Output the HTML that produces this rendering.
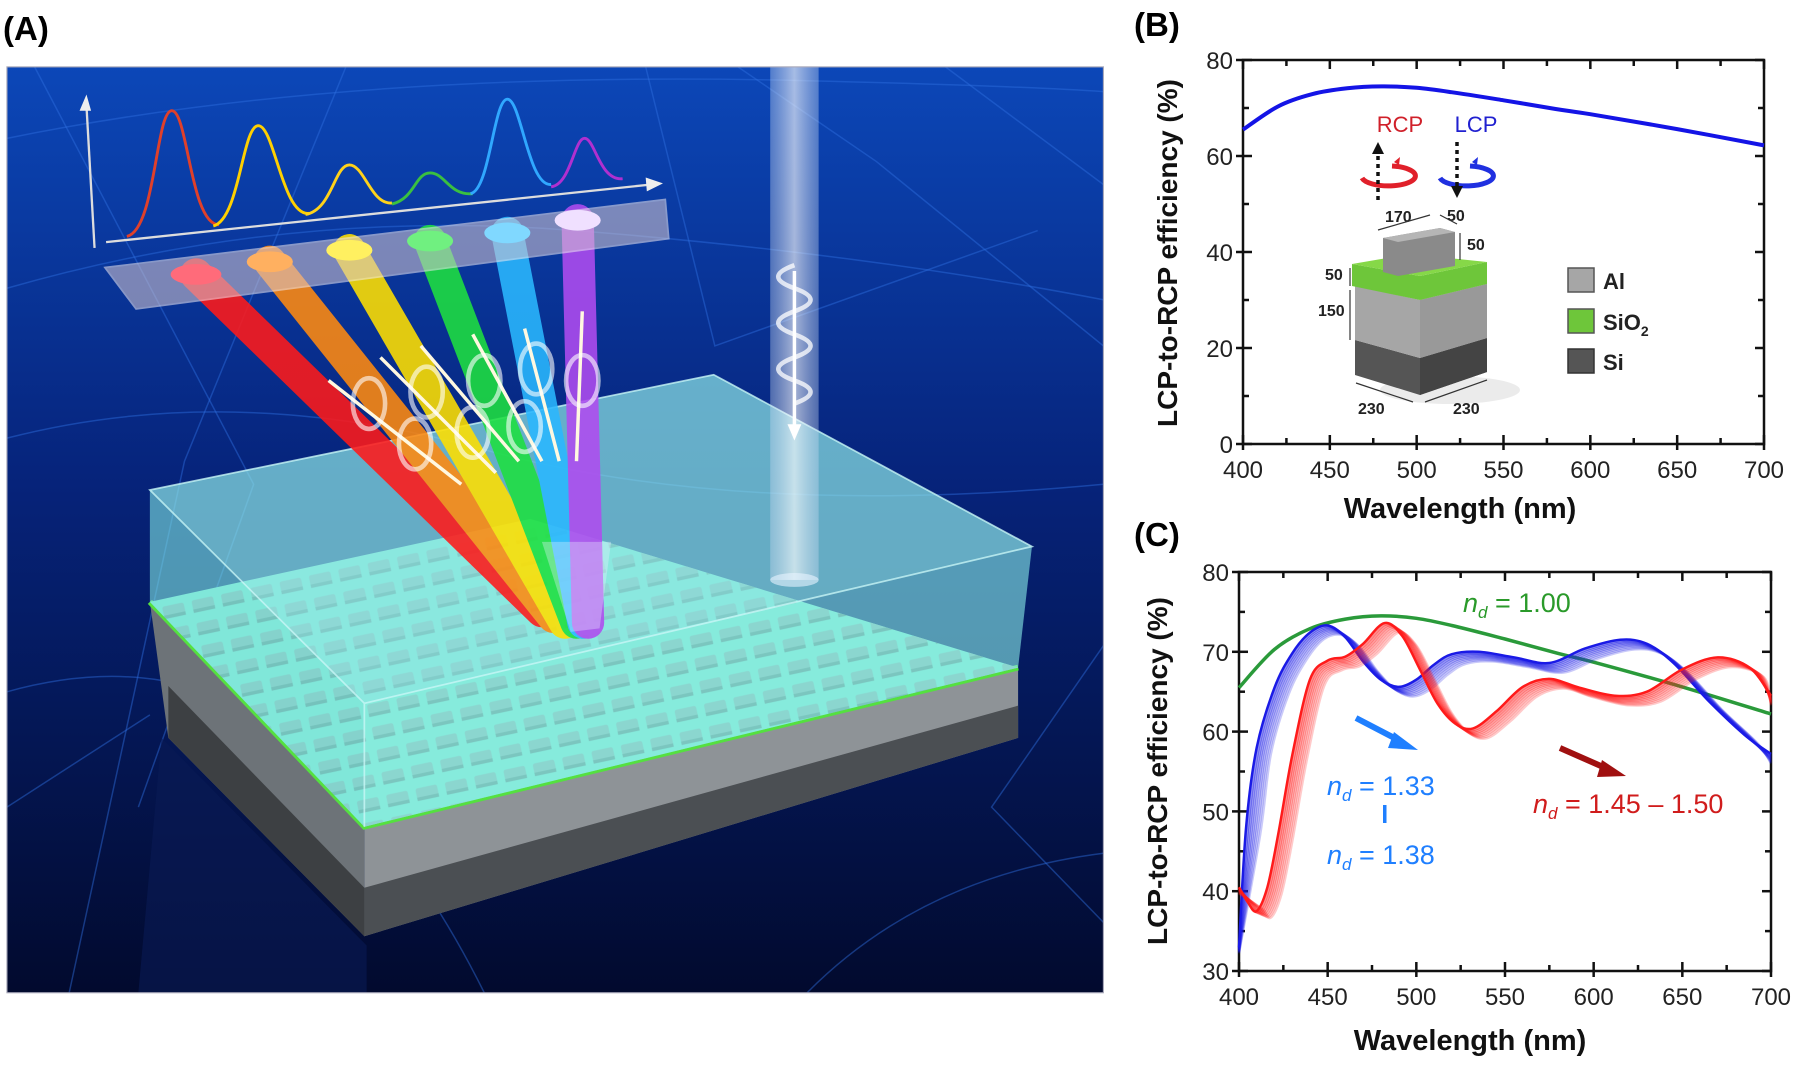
<!DOCTYPE html>
<html><head><meta charset="utf-8">
<style>
html,body{margin:0;padding:0;background:#fff;}
svg{display:block;}
text{font-family:"Liberation Sans",Arial,sans-serif;}
</style></head>
<body>
<svg id="s" width="1801" height="1075" viewBox="0 0 1801 1075" xmlns="http://www.w3.org/2000/svg">
<defs>
<linearGradient id="bg" x1="0" y1="0" x2="0" y2="1">
<stop offset="0" stop-color="#0c47b8"/><stop offset="0.45" stop-color="#06237a"/><stop offset="1" stop-color="#020a2e"/>
</linearGradient>
<linearGradient id="beamW" x1="0" y1="0" x2="1" y2="0">
<stop offset="0" stop-color="#c8d8f0" stop-opacity="0.5"/><stop offset="0.5" stop-color="#ffffff" stop-opacity="0.85"/><stop offset="1" stop-color="#c8d8f0" stop-opacity="0.5"/>
</linearGradient>
<pattern id="pill" width="26" height="20" patternUnits="userSpaceOnUse" patternTransform="rotate(-12)">
<rect x="2" y="4" width="19" height="10" rx="2" fill="#8fa9a2"/><rect x="2" y="12" width="19" height="3" fill="#5f7a74"/>
</pattern>
<clipPath id="clipA"><rect x="6" y="58" width="951" height="803"/></clipPath>
</defs>

<g transform="scale(1.153)">
<g clip-path="url(#clipA)">
<rect x="6" y="58" width="951" height="803" fill="url(#bg)"/>
<g stroke="#2e6ee0" stroke-opacity="0.45" stroke-width="1.3" fill="none">
<path d="M6 120 Q300 60 700 70 T957 90"/><path d="M6 250 Q250 180 500 200 T957 260"/>
<path d="M6 380 Q200 330 420 390 T957 420"/><path d="M30 58 L220 420 L120 700"/>
<path d="M300 58 L160 400 L60 861"/><path d="M560 58 L620 300 L900 200"/>
<path d="M957 300 L760 140 L640 58"/><path d="M957 560 L860 700 L957 800"/>
<path d="M6 600 Q150 560 250 640 T420 861"/><path d="M6 700 L130 620"/>
<path d="M700 861 Q800 760 957 740"/><path d="M820 58 L957 160"/>
</g>
<path d="M140 640 L318 820 L318 861 L120 861 Z" fill="#0a1a55" opacity="0.6"/>
<path d="M130 522 L316 717 L316 812 L146 640 Z" fill="#6d7378"/>
<path d="M316 717 L883 579 L883 640 L316 812 Z" fill="#8e9397"/>
<path d="M316 770 L883 612 L883 640 L316 812 Z" fill="#4b4f53"/>
<path d="M146 595 L316 770 L316 812 L146 640 Z" fill="#3d4043"/>
<path d="M130 522 L316 717 L883 579" fill="none" stroke="#55e040" stroke-width="5"/>
<path d="M130 522 L460 450 L883 579 L316 717 Z" fill="#7fe6c8"/>
<path d="M130 522 L460 450 L883 579 L316 717 Z" fill="url(#pill)" opacity="0.85"/>
<path d="M130 425 L619 325 L895 474 L316 610 Z" fill="#8ee8e8" opacity="0.7"/>
<path d="M130 425 L316 610 L316 717 L130 522 Z" fill="#80e8e4" opacity="0.6"/>
<path d="M316 610 L895 474 L883 579 L316 717 Z" fill="#8aeeea" opacity="0.6"/>
<path d="M130 425 L619 325 L895 474 L316 610 Z M316 610 L316 717" fill="none" stroke="#c8f6f6" stroke-width="1.5" opacity="0.8"/>
<rect x="668" y="58" width="42" height="445" fill="url(#beamW)" opacity="0.75"/>
<ellipse cx="689" cy="503" rx="21" ry="6" fill="#e8f4ff" opacity="0.6"/>
<g fill="none" stroke="#fff" stroke-opacity="0.75" stroke-width="4">
<path d="M689 230 q-28 10 0 20 q28 10 0 20 q-28 10 0 20 q28 10 0 20 q-28 10 0 20 q28 10 0 20"/>
</g>
<path d="M689 235 L689 375" stroke="#fff" stroke-width="3"/><path d="M683 368 L689 382 L695 368 Z" fill="#fff"/>
<g opacity="0.88" stroke-linecap="round">
<path d="M170 238 L470 530" stroke="#ff1a1a" stroke-width="28"/>
<path d="M234 227 L480 535" stroke="#ff8a10" stroke-width="28"/>
<path d="M303 217 L490 540" stroke="#ffe000" stroke-width="28"/>
<path d="M373 209 L500 540" stroke="#1ee040" stroke-width="28"/>
<path d="M440 202 L506 540" stroke="#2ab8ff" stroke-width="28"/>
<path d="M501 191 L510 540" stroke="#b04cf0" stroke-width="28"/>
</g>
<path d="M470 470 L530 470 L520 545 L495 548 Z" fill="#e8f0ff" opacity="0.35"/>
<g stroke="#fff8e0" stroke-width="3">
<path d="M400 420 L285 330"/><path d="M430 410 L330 310"/><path d="M450 400 L365 300"/><path d="M470 400 L410 290"/><path d="M485 400 L455 285"/><path d="M500 400 L505 270"/>
</g>
<g fill="none" stroke="#fff" stroke-opacity="0.6" stroke-width="4">
<ellipse cx="320" cy="350" rx="14" ry="22"/><ellipse cx="370" cy="340" rx="14" ry="22"/><ellipse cx="420" cy="330" rx="14" ry="22"/><ellipse cx="465" cy="320" rx="14" ry="22"/><ellipse cx="505" cy="330" rx="14" ry="22"/>
<ellipse cx="360" cy="385" rx="14" ry="22"/><ellipse cx="410" cy="375" rx="14" ry="22"/><ellipse cx="455" cy="370" rx="14" ry="22"/>
</g>
<path d="M91 232 L577 173 L580 207 L118 268 Z" fill="#d8c8d0" opacity="0.55" stroke="#f0e8ee" stroke-width="1.5"/>
<g>
<ellipse cx="170" cy="238" rx="22" ry="9" fill="#ff6b7a"/><ellipse cx="234" cy="227" rx="20" ry="9" fill="#ffb060"/>
<ellipse cx="303" cy="217" rx="20" ry="9" fill="#fff060"/><ellipse cx="373" cy="209" rx="20" ry="9" fill="#70f080"/>
<ellipse cx="440" cy="202" rx="20" ry="9" fill="#80d8ff"/><ellipse cx="501" cy="191" rx="20" ry="9" fill="#f0e0ff"/>
</g>
<path d="M82 215 L75 92" stroke="#ddd" stroke-width="2"/><path d="M69 96 L75 82 L79 96 Z" fill="#eee"/>
<path d="M92 210 L565 160" stroke="#ddd" stroke-width="2"/><path d="M560 154 L575 159 L561 166 Z" fill="#eee"/>
<g fill="none" stroke-width="2.5">
<path d="M110 205 C135 200 135 96 149 96 C163 96 165 195 190 195" stroke="#e0402a"/>
<path d="M185 196 C208 190 210 109 224 109 C238 109 245 188 268 185" stroke="#ffd000"/>
<path d="M265 186 C288 182 290 143 303 143 C316 143 322 178 340 176" stroke="#ffd21a"/>
<path d="M340 177 C360 172 360 150 373 150 C386 150 390 170 410 168" stroke="#3ac040"/>
<path d="M408 168 C425 165 428 86 440 86 C452 86 458 162 478 160" stroke="#30a8ff"/>
<path d="M478 162 C495 160 498 120 507 120 C516 120 520 157 540 155" stroke="#b030d0"/>
</g>
</g>
<rect x="6" y="58" width="951" height="803" fill="none" stroke="#aab" stroke-width="1"/>
</g>

<text x="3" y="40" font-size="33" font-weight="bold">(A)</text>
<text x="1134" y="36" font-size="33" font-weight="bold">(B)</text>
<text x="1134" y="546" font-size="33" font-weight="bold">(C)</text>

<g id="axB"></g>
<g id="axC"></g>

<g>
<text x="1400" y="132" font-size="22" fill="#d0202a" text-anchor="middle">RCP</text>
<text x="1476" y="132" font-size="22" fill="#2020d0" text-anchor="middle">LCP</text>
<g fill="none" stroke-width="5">
<path d="M1392 166 A27 10 0 1 1 1362 178" stroke="#e0202a"/>
<path d="M1470 166 A27 10 0 1 1 1440 178" stroke="#2030e0"/>
</g>
<path d="M1394 162 l6 -5 l-1 8 z" fill="#e0202a"/>
<path d="M1472 162 l6 -5 l-1 8 z" fill="#2030e0"/>
<path d="M1378 200 L1378 150" stroke="#111" stroke-width="3.5" stroke-dasharray="4 4"/><path d="M1372 154 L1378 142 L1384 154 Z" fill="#111"/>
<path d="M1457 142 L1457 188" stroke="#111" stroke-width="3.5" stroke-dasharray="4 4"/><path d="M1451 186 L1457 198 L1463 186 Z" fill="#111"/>
<ellipse cx="1450" cy="390" rx="70" ry="14" fill="#ccc" opacity="0.4"/>
<path d="M1355 375 L1420 395 L1487 372 L1487 338 L1420 358 L1355 340 Z" fill="#555"/>
<path d="M1420 358 L1487 338 L1487 372 L1420 395 Z" fill="#444"/>
<path d="M1355 340 L1420 358 L1487 338 L1487 284 L1420 300 L1355 286 Z" fill="#a6a6a6"/>
<path d="M1420 300 L1487 284 L1487 338 L1420 358 Z" fill="#999"/>
<path d="M1352 286 L1420 300 L1487 284 L1487 262 L1420 276 L1352 264 Z" fill="#6ec63a"/>
<path d="M1352 264 L1410 254 L1487 262 L1420 276 Z" fill="#86d848"/>
<path d="M1383 238 L1440 228 L1455 232 L1455 266 L1398 276 L1383 272 Z" fill="#8a8a8a"/>
<path d="M1383 238 L1440 228 L1455 232 L1398 242 Z" fill="#b5b5b5"/>
<g font-size="16" font-weight="bold" fill="#222">
<text x="1385" y="222">170</text><text x="1447" y="221">50</text><text x="1467" y="250">50</text>
<text x="1325" y="280">50</text><text x="1318" y="316">150</text>
<text x="1358" y="414">230</text><text x="1453" y="414">230</text>
</g>
<g stroke="#333" stroke-width="1.2">
<path d="M1378 230 L1430 215"/><path d="M1440 215 L1457 224"/><path d="M1460 233 L1460 260"/>
<path d="M1350 268 L1350 286"/><path d="M1350 290 L1350 340"/>
<path d="M1356 383 L1413 402"/><path d="M1425 402 L1487 380"/>
</g>
<rect x="1568" y="268" width="26" height="24" fill="#a6a6a6" stroke="#555" stroke-width="1.5"/>
<rect x="1568" y="309" width="26" height="24" fill="#6ec63a" stroke="#555" stroke-width="1.5"/>
<rect x="1568" y="349" width="26" height="24" fill="#555" stroke="#333" stroke-width="1.5"/>
<g font-size="22" font-weight="bold" fill="#222">
<text x="1603" y="289">Al</text><text x="1603" y="330">SiO<tspan font-size="14" dy="6">2</tspan></text><text x="1603" y="370">Si</text>
</g>
</g>

<g font-size="27">
<text x="1463" y="612" fill="#2a9a2a"><tspan font-style="italic">n</tspan><tspan font-style="italic" font-size="17" dy="6">d</tspan><tspan dy="-6"> = 1.00</tspan></text>
<text x="1327" y="795" fill="#1f7fff"><tspan font-style="italic">n</tspan><tspan font-style="italic" font-size="17" dy="6">d</tspan><tspan dy="-6"> = 1.33</tspan></text>
<text x="1327" y="864" fill="#1f7fff"><tspan font-style="italic">n</tspan><tspan font-style="italic" font-size="17" dy="6">d</tspan><tspan dy="-6"> = 1.38</tspan></text>
<text x="1533" y="813" fill="#d01c1c"><tspan font-style="italic">n</tspan><tspan font-style="italic" font-size="17" dy="6">d</tspan><tspan dy="-6"> = 1.45 – 1.50</tspan></text>
</g>
<rect x="1383" y="805" width="3.5" height="18" fill="#1f7fff"/>
<path d="M1356 718 L1402 742" stroke="#1f7fff" stroke-width="6"/><path d="M1394 732 L1418 750 L1388 748 Z" fill="#1f7fff"/>
<path d="M1560 748 L1610 770" stroke="#a01010" stroke-width="6"/><path d="M1602 760 L1626 776 L1597 777 Z" fill="#a01010"/>
</svg>
<script>
(function(){
var NS="http://www.w3.org/2000/svg",s=document.getElementById('s');
function el(t,a,p){var e=document.createElementNS(NS,t);for(var k in a)e.setAttribute(k,a[k]);(p||s).appendChild(e);return e;}
function txt(x,y,str,a,p){var e=el('text',Object.assign({x:x,y:y},a),p);e.textContent=str;return e;}
function spline(pts){var d='M'+pts[0][0].toFixed(1)+' '+pts[0][1].toFixed(1);
 for(var i=0;i<pts.length-1;i++){var p0=pts[Math.max(i-1,0)],p1=pts[i],p2=pts[i+1],p3=pts[Math.min(i+2,pts.length-1)];
 d+=' C'+(p1[0]+(p2[0]-p0[0])/6).toFixed(1)+' '+(p1[1]+(p2[1]-p0[1])/6).toFixed(1)+' '+(p2[0]-(p3[0]-p1[0])/6).toFixed(1)+' '+(p2[1]-(p3[1]-p1[1])/6).toFixed(1)+' '+p2[0].toFixed(1)+' '+p2[1].toFixed(1);}
 return d;}
function axes(g,L,R,T,B,ymin,ymax,ymaj,ymin2){
 var gg=document.getElementById(g);
 var px=function(w){return L+(w-400)*(R-L)/300},py=function(v){return B-(v-ymin)*(B-T)/(ymax-ymin)};
 el('rect',{x:L,y:T,width:R-L,height:B-T,fill:'none',stroke:'#111','stroke-width':2.5},gg);
 for(var w=400;w<=700;w+=25){var maj=(w%50==0),len=maj?9:6;
  el('line',{x1:px(w),y1:B,x2:px(w),y2:B-len,stroke:'#111','stroke-width':2.5},gg);
  el('line',{x1:px(w),y1:T,x2:px(w),y2:T+len,stroke:'#111','stroke-width':2.5},gg);
  if(maj){el('line',{x1:px(w),y1:B,x2:px(w),y2:B+6,stroke:'#111','stroke-width':2.5},gg);
   txt(px(w),B+34,String(w),{'font-size':24,'text-anchor':'middle',fill:'#222'},gg);}}
 for(var v=ymin;v<=ymax+0.01;v+=ymin2){var maj=(Math.abs((v-ymin)%ymaj)<0.01),len=maj?9:6;
  el('line',{x1:L,y1:py(v),x2:L+len,y2:py(v),stroke:'#111','stroke-width':2.5},gg);
  el('line',{x1:R,y1:py(v),x2:R-len,y2:py(v),stroke:'#111','stroke-width':2.5},gg);
  if(maj){el('line',{x1:L,y1:py(v),x2:L-7,y2:py(v),stroke:'#111','stroke-width':2.5},gg);
   txt(L-10,py(v)+9,String(v),{'font-size':24,'text-anchor':'end',fill:'#222'},gg);}}
 return {px:px,py:py};}
var b=axes('axB',1243,1764,60,444,0,80,20,10);
txt(1460,518,'Wavelength (nm)',{'font-size':29,'font-weight':'bold','text-anchor':'middle',fill:'#111'});
txt(0,0,'LCP-to-RCP efficiency (%)',{'font-size':28,'font-weight':'bold','text-anchor':'middle',fill:'#111',transform:'translate(1177,253) rotate(-90)'});
var c=axes('axC',1239,1771,572,971,30,80,10,5);
txt(1470,1050,'Wavelength (nm)',{'font-size':29,'font-weight':'bold','text-anchor':'middle',fill:'#111'});
txt(0,0,'LCP-to-RCP efficiency (%)',{'font-size':28,'font-weight':'bold','text-anchor':'middle',fill:'#111',transform:'translate(1167,771) rotate(-90)'});
var G=[[400,65.5],[420,70.3],[440,72.9],[460,74.1],[480,74.5],[500,74.2],[520,73.3],[550,71.6],[580,69.8],[600,68.7],[650,65.6],[700,62.2]];
el('path',{d:spline(G.map(function(p){return [b.px(p[0]),b.py(p[1])]})),fill:'none',stroke:'#1414e6','stroke-width':4});
el('path',{d:spline(G.map(function(p){return [c.px(p[0]),c.py(p[1])]})),fill:'none',stroke:'#2a9a3a','stroke-width':3.5});
var BL=[[400,33],[404,48],[410,58],[420,65.5],[430,69.8],[440,72.4],[450,73.3],[460,71.8],[470,68.8],[480,66.5],[490,65.6],[500,66.5],[510,68.4],[520,69.7],[535,70],[555,69.3],[575,68.6],[595,70.4],[615,71.5],[630,71],[645,68.6],[665,63.8],[685,59.6],[700,57.2]];
var RL=[[400,40.5],[405,38.6],[410,37.5],[416,40.5],[422,47],[430,57],[440,66.5],[450,68.9],[460,69.4],[470,71],[482,73.6],[492,72],[502,67.8],[512,63.5],[522,61],[532,60.4],[545,62.5],[560,65.6],[575,66.6],[592,65.5],[612,64.5],[630,65],[650,67.8],[670,69.3],[688,68],[700,64.5]];
function fam(L,col){for(var k=8;k>=0;k--){var sh=k*1.0;
 var pts=L.map(function(p){return [c.px(Math.min(700,p[0]+ (p[0]>400?sh:0))),c.py(p[1]-(p[0]<450?k*0.1:k*0.15))]});
 el('path',{d:spline(pts),fill:'none',stroke:col,'stroke-width':2.5,'stroke-opacity':k==0?1:0.55-k*0.04});}}
fam(BL,'#1a1ae6');fam(RL,'#ff1a1a');
})();
</script>
</body></html>
